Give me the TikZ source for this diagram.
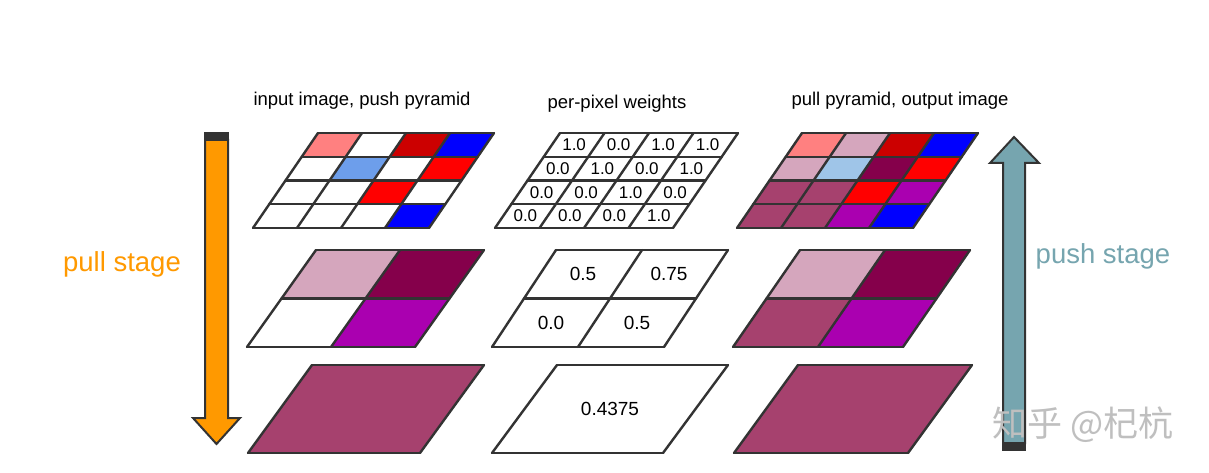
\documentclass[tikz,border=0pt]{standalone}
\usepackage{fontspec}
\setmainfont{Liberation Sans}
\newfontfamily\cjk{Noto Sans CJK SC}
\definecolor{pk}{HTML}{FF8080}
\definecolor{lb}{HTML}{6D9EEB}
\definecolor{lb2}{HTML}{9FC5E8}
\definecolor{dr}{HTML}{CC0000}
\definecolor{bl}{HTML}{0000FF}
\definecolor{rd}{HTML}{FF0000}
\definecolor{mv}{HTML}{D5A6BD}
\definecolor{dm}{HTML}{85004B}
\definecolor{pu}{HTML}{AA00B0}
\definecolor{rm}{HTML}{A6416E}
\definecolor{ln}{HTML}{333333}
\definecolor{orng}{HTML}{FF9900}
\definecolor{teal}{HTML}{76A5AF}
\tikzset{lbl/.style={font=\fontsize{18.5}{21}\selectfont},
 num/.style={font=\fontsize{19}{21}\selectfont}}
% X Y W H S n cells(i/j/color/text)
\newcommand\pgrid[7]{%
 \foreach \i/\j/\c/\t in {#7}{%
  \fill[\c] ({#1+(\i)*#3/#6-(\j)*#5/#6},{#2+(\j)*#4/#6}) --
   ({#1+(\i+1)*#3/#6-(\j)*#5/#6},{#2+(\j)*#4/#6}) --
   ({#1+(\i+1)*#3/#6-(\j+1)*#5/#6},{#2+(\j+1)*#4/#6}) --
   ({#1+(\i)*#3/#6-(\j+1)*#5/#6},{#2+(\j+1)*#4/#6}) -- cycle;
  \node[num] at ({#1+(\i+0.5)*#3/#6-(\j+0.5)*#5/#6},{#2+(\j+0.5)*#4/#6}) {\t};
 }%
 \foreach \k in {0,...,#6}{%
  \draw[ln,line width=2.4pt,line cap=round] ({#1-(\k)*#5/#6},{#2+(\k)*#4/#6}) -- ({#1+#3-(\k)*#5/#6},{#2+(\k)*#4/#6});
  \draw[ln,line width=2.4pt,line cap=round] ({#1+(\k)*#3/#6},{#2}) -- ({#1+(\k)*#3/#6-#5},{#2+#4});
 }}
\begin{document}
\begin{tikzpicture}[x=1pt,y=-1pt]
\fill[white] (0,0) rectangle (1209,473);
\useasboundingbox (0,0) rectangle (1209,473);
% headings
\node[lbl] (h1) at (362,101) {input image, push pyramid};
\node[lbl] (h2) at (617,104) {per-pixel weights};
\node[lbl] (h3) at (900,101) {pull pyramid, output image};
% top row
\pgrid{318}{133}{176}{95}{65}{4}{0/0/pk/,1/0/white/,2/0/dr/,3/0/bl/,0/1/white/,1/1/lb/,2/1/white/,3/1/rd/,0/2/white/,1/2/white/,2/2/rd/,3/2/white/,0/3/white/,1/3/white/,2/3/white/,3/3/bl/}
\begin{scope}[num/.style={font=\fontsize{17}{19}\selectfont}]
\pgrid{560}{133}{178}{95}{65}{4}{0/0/white/1.0,1/0/white/0.0,2/0/white/1.0,3/0/white/1.0,0/1/white/0.0,1/1/white/1.0,2/1/white/0.0,3/1/white/1.0,0/2/white/0.0,1/2/white/0.0,2/2/white/1.0,3/2/white/0.0,0/3/white/0.0,1/3/white/0.0,2/3/white/0.0,3/3/white/1.0}
\end{scope}
\pgrid{802}{133}{176}{95}{65}{4}{0/0/pk/,1/0/mv/,2/0/dr/,3/0/bl/,0/1/mv/,1/1/lb2/,2/1/dm/,3/1/rd/,0/2/rm/,1/2/rm/,2/2/rd/,3/2/pu/,0/3/rm/,1/3/rm/,2/3/pu/,3/3/bl/}
% middle row
\pgrid{316}{250}{168}{97}{69}{2}{0/0/mv/,1/0/dm/,0/1/white/,1/1/pu/}
\pgrid{556}{250}{172}{97}{64}{2}{0/0/white/0.5,1/0/white/0.75,0/1/white/0.0,1/1/white/0.5}
\pgrid{800}{250}{170}{97}{67}{2}{0/0/mv/,1/0/dm/,0/1/rm/,1/1/pu/}
% bottom row
\pgrid{312}{365}{172}{88}{64}{1}{0/0/rm/}
\pgrid{557}{365}{171}{88}{65}{1}{0/0/white/0.4375}
\pgrid{798}{365}{174}{88}{64}{1}{0/0/rm/}
% pull arrow
\draw[ln,line width=2pt,fill=orng,line join=miter] (205,140) -- (228,140) -- (228,418) -- (240,418) -- (216.5,444) -- (193,418) -- (205,418) -- cycle;
\fill[ln] (204,132) rectangle (229,140);
\node[font=\fontsize{27.5}{31}\selectfont,text=orng] (pull) at (122,264) {pull stage};
% push arrow
\draw[ln,line width=2pt,fill=teal,line join=miter] (1003,443) -- (1003,163) -- (990,163) -- (1014,137) -- (1039,163) -- (1025,163) -- (1025,443) -- cycle;
\fill[ln] (1002,443) rectangle (1026,451);
\node[font=\fontsize{27.5}{31}\selectfont,text=teal] (push) at (1103,256) {push stage};
\node[font=\fontsize{35}{40}\selectfont,text=black!25] (wm) at (1083,425) {\cjk 知乎 @杞杭};
\end{tikzpicture}
\end{document}
